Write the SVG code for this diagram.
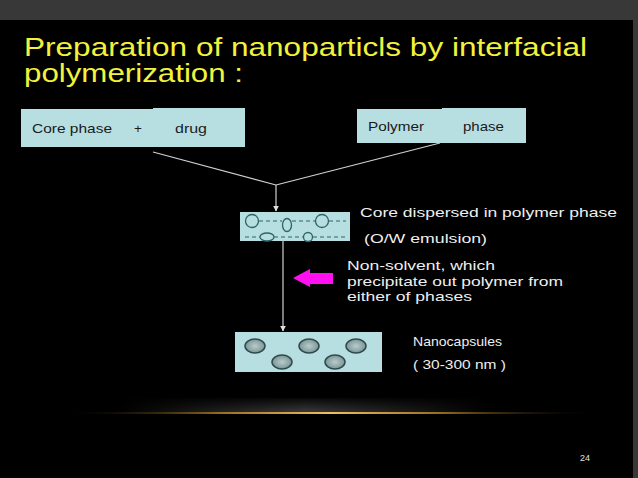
<svg xmlns="http://www.w3.org/2000/svg" width="638" height="478" viewBox="0 0 638 478">
<defs>
<style>
.t{font-family:"Liberation Sans",Arial,sans-serif;}
.title{fill:#f2f23c;font-size:25px;}
.lbl{fill:#1a1a1a;font-size:13.5px;}
.w{fill:#efefef;font-size:13.5px;}
.box{fill:#b7dfe2;}
.conn{stroke:#d0d0d0;stroke-width:1.2;fill:none;}
.em{fill:none;stroke:#2e6468;stroke-width:1.3;}
.dash{stroke:#2e6468;stroke-width:1.2;stroke-dasharray:4 3;}
.cap{fill:url(#capg);stroke:#2f4a4c;stroke-width:1.5;}
</style>
<marker id="ah" viewBox="0 0 10 10" refX="9" refY="5" markerWidth="5" markerHeight="5" orient="auto">
<path d="M0,0 L10,5 L0,10 z" fill="#e0e0e0"/>
</marker>
<radialGradient id="capg" cx="50%" cy="50%" r="60%">
<stop offset="0" stop-color="#b8cccc"/>
<stop offset="1" stop-color="#6f8a8c"/>
</radialGradient>
<linearGradient id="band" x1="0" y1="0" x2="1" y2="0">
<stop offset="0" stop-color="#000"/>
<stop offset="0.5" stop-color="#3a3a3a"/>
<stop offset="1" stop-color="#000"/>
</linearGradient>
<linearGradient id="gold" x1="0" y1="0" x2="1" y2="0">
<stop offset="0" stop-color="#000" stop-opacity="0"/>
<stop offset="0.3" stop-color="#9a7020"/>
<stop offset="0.5" stop-color="#f0c060"/>
<stop offset="0.7" stop-color="#9a7020"/>
<stop offset="1" stop-color="#000" stop-opacity="0"/>
</linearGradient>
<linearGradient id="bandv" x1="0" y1="0" x2="0" y2="1">
<stop offset="0" stop-color="#fff" stop-opacity="0"/>
<stop offset="1" stop-color="#fff" stop-opacity="1"/>
</linearGradient>
<mask id="bm"><rect x="0" y="396" width="638" height="16" fill="url(#bandv)"/></mask>
</defs>
<rect width="638" height="478" fill="#000"/>
<rect x="0" y="0" width="638" height="20" fill="#383838"/>
<rect x="633" y="0" width="5" height="478" fill="#383838"/>
<rect x="120" y="398" width="370" height="14" fill="url(#band)" mask="url(#bm)"/>
<rect x="60" y="412" width="540" height="2" fill="url(#gold)"/>
<text class="t title" x="24" y="56" textLength="563" lengthAdjust="spacingAndGlyphs">Preparation of nanoparticls by interfacial</text>
<text class="t title" x="24" y="82" textLength="219" lengthAdjust="spacingAndGlyphs">polymerization :</text>
<g id="core-drug">
<rect class="box" x="21" y="109" width="133" height="38"/>
<rect class="box" x="153" y="108" width="92" height="39"/>
<text class="t lbl" x="32" y="133" textLength="80" lengthAdjust="spacingAndGlyphs">Core phase</text>
<text class="t lbl" x="134" y="133">+</text>
<text class="t lbl" x="175" y="133" textLength="32" lengthAdjust="spacingAndGlyphs">drug</text>
</g>
<g id="polymer-phase">
<rect class="box" x="357" y="109" width="86" height="34"/>
<rect class="box" x="442" y="108" width="84" height="35"/>
<text class="t lbl" x="368" y="131" textLength="56" lengthAdjust="spacingAndGlyphs">Polymer</text>
<text class="t lbl" x="463" y="131" textLength="41" lengthAdjust="spacingAndGlyphs">phase</text>
</g>
<g id="connectors">
<line class="conn" x1="153" y1="152" x2="276" y2="185"/>
<line class="conn" x1="440" y1="143" x2="276" y2="185"/>
<line class="conn" x1="276" y1="185" x2="276" y2="211" marker-end="url(#ah)"/>
<line class="conn" x1="283" y1="241" x2="283" y2="331" marker-end="url(#ah)"/>
<path d="M293,278 L310,269 L310,273 L333,273 L333,284 L310,284 L310,287 Z" fill="#ff10f0"/>
</g>
<g id="emulsion">
<rect class="box" x="240" y="212" width="110" height="29"/>
<circle class="em" cx="252" cy="221" r="6.5"/>
<line class="dash" x1="259" y1="221" x2="282" y2="221"/>
<ellipse class="em" cx="287" cy="225" rx="4.5" ry="6.5"/>
<line class="dash" x1="292" y1="221" x2="315" y2="221"/>
<circle class="em" cx="322" cy="221" r="6.5"/>
<line class="dash" x1="329" y1="221" x2="346" y2="221"/>
<line class="dash" x1="245" y1="237" x2="260" y2="237"/>
<ellipse class="em" cx="267" cy="237" rx="7" ry="4"/>
<line class="dash" x1="274" y1="237" x2="303" y2="237"/>
<circle class="em" cx="308" cy="237" r="4.5"/>
<line class="dash" x1="313" y1="237" x2="345" y2="237"/>
</g>
<g id="emulsion-label">
<text class="t w" x="360" y="217" textLength="257" lengthAdjust="spacingAndGlyphs">Core dispersed in polymer phase</text>
<text class="t w" x="364" y="243" textLength="123" lengthAdjust="spacingAndGlyphs">(O/W emulsion)</text>
</g>
<g id="nonsolvent-label">
<text class="t w" x="347" y="270" textLength="148" lengthAdjust="spacingAndGlyphs">Non-solvent, which</text>
<text class="t w" x="347" y="285.5" textLength="216" lengthAdjust="spacingAndGlyphs">precipitate out polymer from</text>
<text class="t w" x="347" y="301" textLength="125" lengthAdjust="spacingAndGlyphs">either of phases</text>
</g>
<g id="nanocapsules">
<rect class="box" x="235" y="332" width="147" height="40"/>
<ellipse class="cap" cx="255" cy="346" rx="10" ry="7"/>
<ellipse class="cap" cx="309" cy="346" rx="10" ry="7"/>
<ellipse class="cap" cx="356" cy="346" rx="10" ry="7"/>
<ellipse class="cap" cx="282" cy="362" rx="10" ry="7"/>
<ellipse class="cap" cx="335" cy="362" rx="10" ry="7"/>
</g>
<g id="nanocapsules-label">
<text class="t w" x="413" y="346" textLength="89" lengthAdjust="spacingAndGlyphs">Nanocapsules</text>
<text class="t w" x="413" y="369" textLength="93" lengthAdjust="spacingAndGlyphs">( 30-300 nm )</text>
</g>
<text class="t" x="580" y="461" fill="#e0e0e0" font-size="9">24</text>
</svg>
